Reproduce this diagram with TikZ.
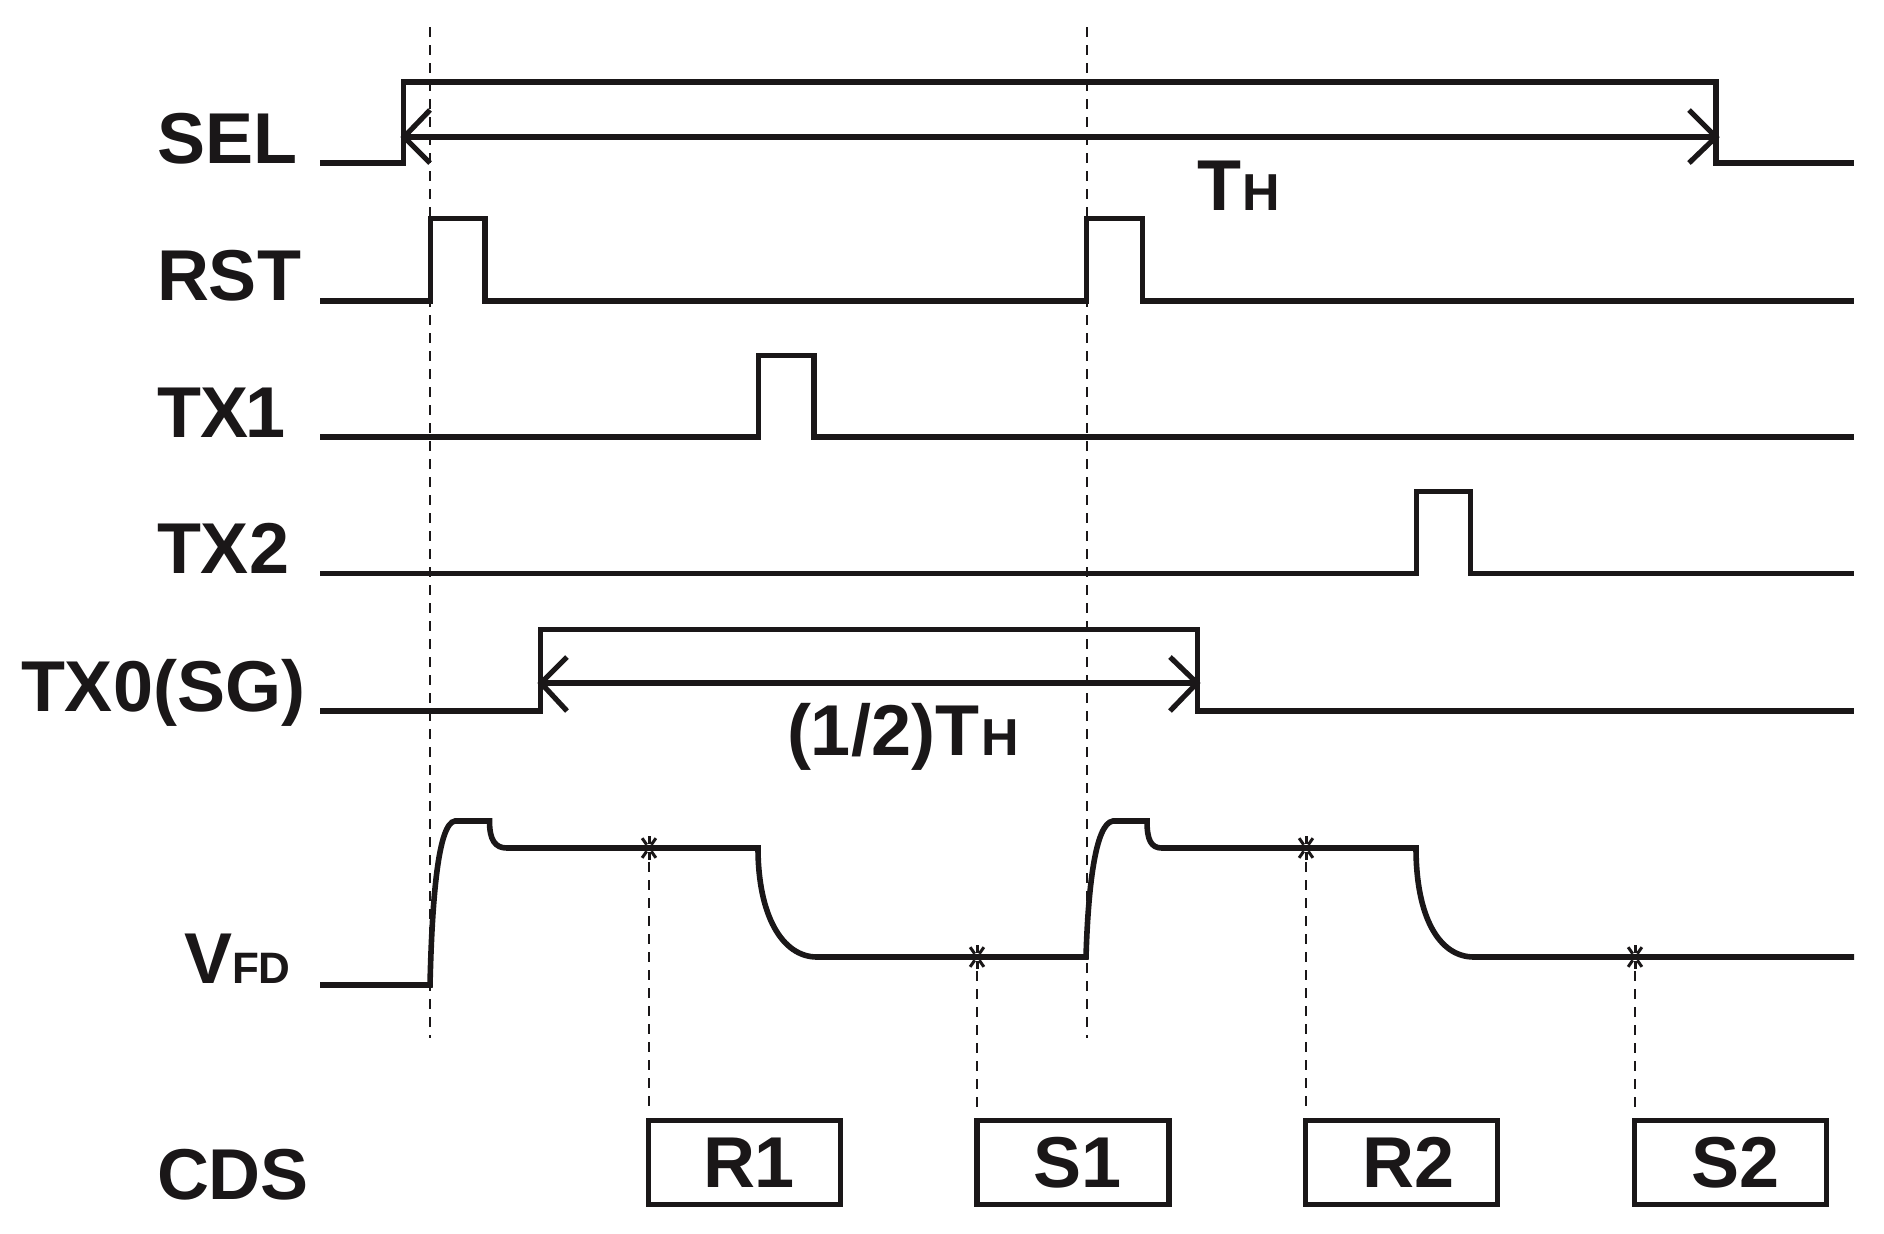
\documentclass[tikz,border=0pt]{standalone}
\usepackage{fontspec}
\setmainfont{Liberation Sans}
\definecolor{ink}{HTML}{1A1718}
\newcommand{\lblfont}{\fontsize{36}{40}\selectfont\bfseries}
\newcommand{\sml}{\fontsize{22}{24}\selectfont\bfseries}
\newcommand{\smh}{\fontsize{26}{30}\selectfont\bfseries}
\tikzset{
  wave/.style={draw=ink,line width=2.8pt,line join=miter},
  leader/.style={draw=ink,line width=2.6pt,line join=miter},
  guide/.style={draw=ink,line width=1.4pt,dash pattern=on 5pt off 4pt},
  tick/.style={draw=ink,line width=1.5pt},
  lbl/.style={inner sep=0pt,outer sep=0pt,anchor=base west,text=ink,font=\lblfont},
  cdsbox/.style={draw=ink,line width=2.7pt,minimum width=96pt,minimum height=42pt,inner sep=0pt,outer sep=0pt,anchor=north west}
}
\newcommand{\starmark}[1]{%
  \foreach \a in {90,55,125,270,235,305}{
    \draw[tick] (#1)++(\a:2pt) -- ++(\a:4pt);
  }
}
\begin{document}
\begin{tikzpicture}[x=0.5pt,y=-0.5pt]
\useasboundingbox (0,0) rectangle (1884,1233);

% full-height guides
\coordinate (ga) at (430,27);   \coordinate (gb) at (430,1038);
\coordinate (gc) at (1087,27);  \coordinate (gd) at (1087,1038);
\draw[guide] (ga) -- (gb);
\draw[guide] (gc) -- (gd);

% labels
\node[lbl] (lsel) at (157,163) {SEL};
\node[lbl] (lrst) at (157,300) {RST};
\node[lbl] (ltx1) at (157,437) {TX\kern-2pt 1};
\node[lbl] (ltx2) at (157,573) {TX2};
\node[lbl] (ltx0) at (21,711)  {TX0(SG)};
\node[lbl] (lvfd) at (184,983) {V{\sml FD}};
\node[lbl] (lcds) at (157,1199) {CDS};

% SEL
\draw[wave] (320,163) -- (403.5,163) -- (403.5,82) -- (1716,82) -- (1716,163) -- (1854,163);
\draw[leader] (404,137) -- (1716,137);
\draw[leader] (430,110) -- (404,137) -- (430,163);
\draw[leader] (1689,110) -- (1716,137) -- (1689,163);
\node[lbl] (lth) at (1197,210) {T\kern1pt{\smh H}};

% RST
\draw[wave] (320,301) -- (430.5,301) -- (430.5,218.5) -- (485,218.5) -- (485,301) -- (1086.5,301) -- (1086.5,218.5) -- (1142.5,218.5) -- (1142.5,301) -- (1854,301);
% TX1
\draw[wave] (320,437) -- (758.5,437) -- (758.5,355.5) -- (814,355.5) -- (814,437) -- (1854,437);
% TX2
\draw[wave] (320,573.5) -- (1416.5,573.5) -- (1416.5,491.5) -- (1470.5,491.5) -- (1470.5,573.5) -- (1854,573.5);
% TX0
\draw[wave] (320,711) -- (540.5,711) -- (540.5,629.5) -- (1197.5,629.5) -- (1197.5,711) -- (1854,711);
\draw[leader] (541,683) -- (1197,683);
\draw[leader] (567,657) -- (541,683) -- (567,711);
\draw[leader] (1170,657) -- (1197,683) -- (1170,711);
\node[lbl] (lhalf) at (787,755) {(1/2)T\kern1pt{\smh H}};

% VFD
\draw[wave] (320,985) -- (430,985)
  .. controls (432,900) and (438,823) .. (455,821) -- (489.5,821)
  .. controls (489.5,840) and (495,848) .. (507,848) -- (758,848)
  .. controls (758,915) and (782,957) .. (817,957) -- (1086,957)
  .. controls (1088,890) and (1095,823) .. (1113,821) -- (1147,821)
  .. controls (1147,840) and (1151,848) .. (1162,848) -- (1416,848)
  .. controls (1416,915) and (1438,957) .. (1474,957) -- (1854,957);

% sample marks
\coordinate (m1) at (649,848);
\coordinate (m2) at (977,957);
\coordinate (m3) at (1306,848);
\coordinate (m4) at (1635,957);
\starmark{m1}\starmark{m2}\starmark{m3}\starmark{m4}

% CDS boxes
\node[cdsbox] (r1) at (648.5,1120.5) {};
\node[cdsbox] (s1) at (977,1120.5) {};
\node[cdsbox] (r2) at (1305.5,1120.5) {};
\node[cdsbox] (s2) at (1634.5,1120.5) {};
\node[lbl] (tr1) at (703,1187)  {R1};
\node[lbl] (ts1) at (1033,1187) {S1};
\node[lbl] (tr2) at (1362,1187) {R2};
\node[lbl] (ts2) at (1691,1187) {S2};

% sampling guides
\foreach \m/\x/\y in {m1/649/862,m2/977/971,m3/1306/862,m4/1635/971}{
  \coordinate (e\m) at (\x,1112);
  \coordinate (b\m) at (\x,\y);
  \draw[guide] (b\m) -- (e\m);
}
\end{tikzpicture}
\end{document}
